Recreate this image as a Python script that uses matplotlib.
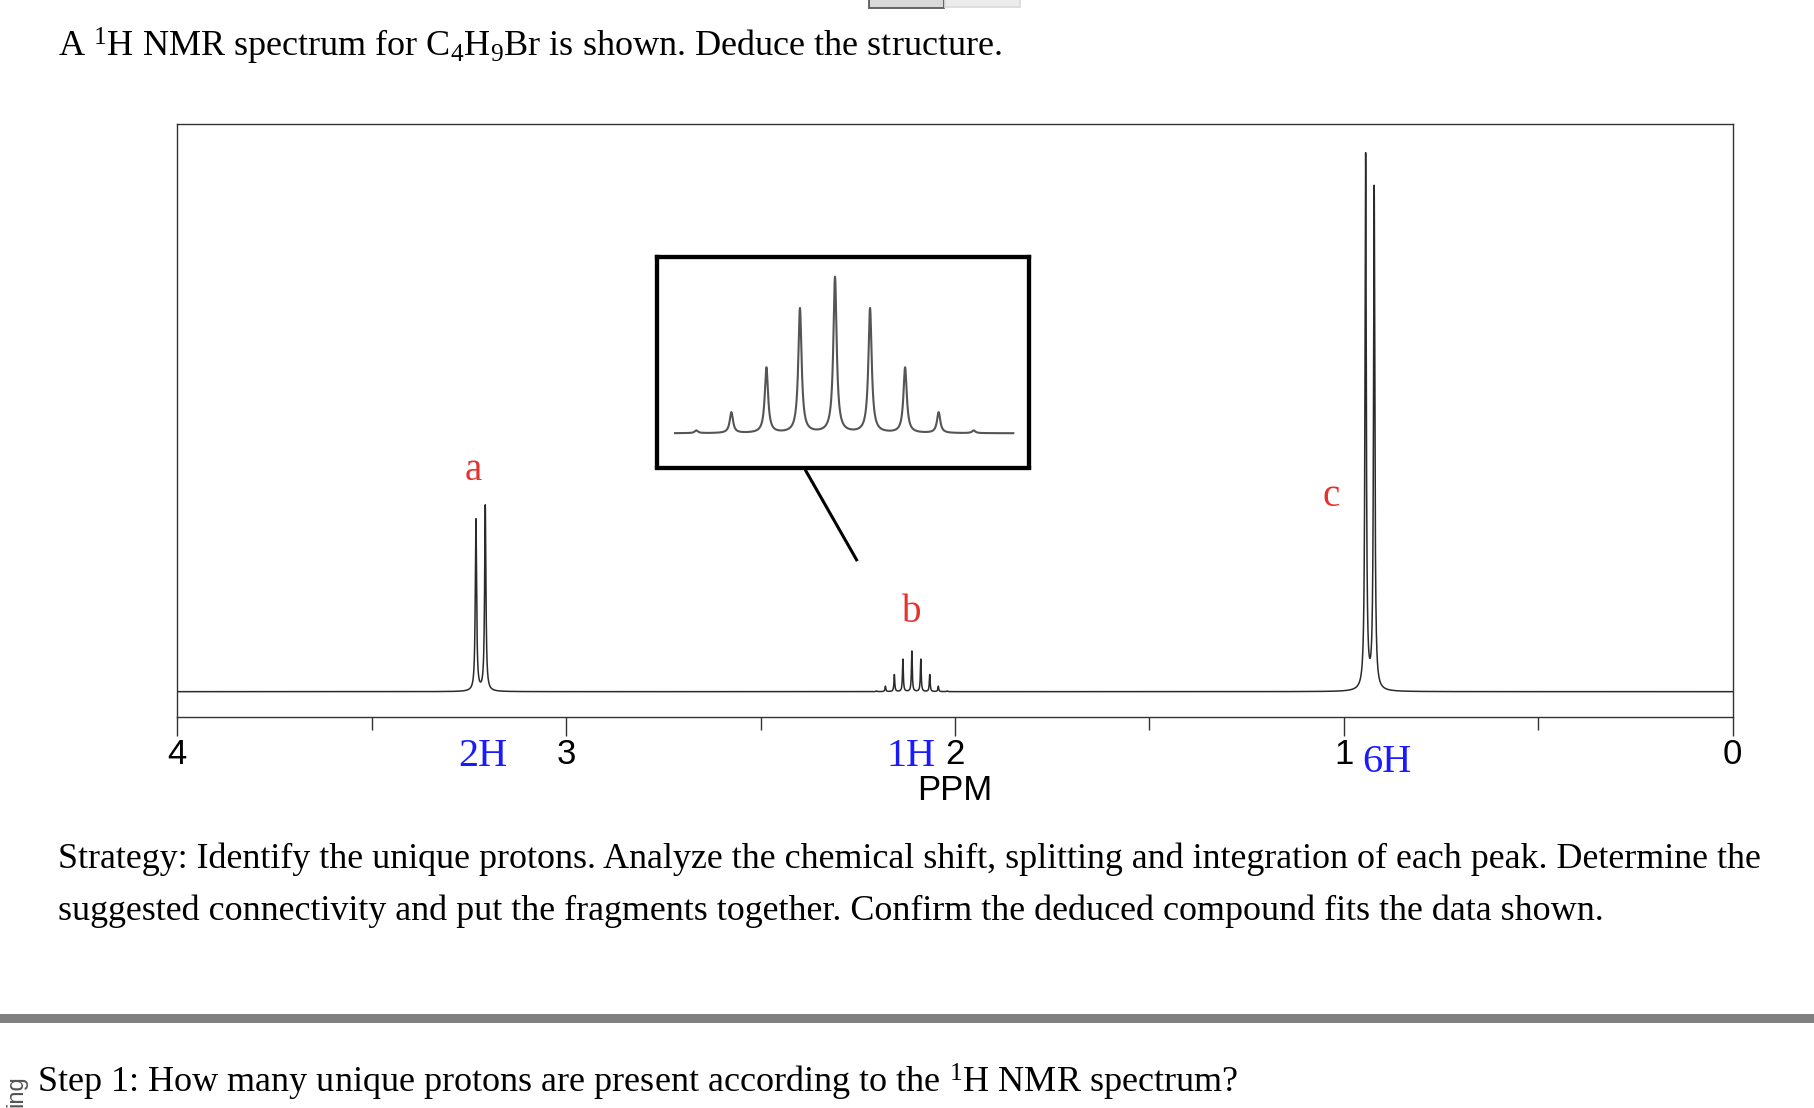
import matplotlib
matplotlib.use('Agg')
import matplotlib.pyplot as plt
from matplotlib.patches import Rectangle
import numpy as np

plt.rcParams['mathtext.fontset'] = 'custom'
plt.rcParams['mathtext.rm'] = 'Liberation Serif'
plt.rcParams['mathtext.it'] = 'Liberation Serif:italic'

W, H = 1814, 1108

# peaks: position (ppm) and height (c = 100)
a_ppm = [3.232, 3.208]
a_height = [31.8, 34.4]
b_ppm = [2.202, 2.179, 2.156, 2.134, 2.111, 2.088, 2.065, 2.043, 2.020]
b_height = [0.13, 1.0, 3.15, 6.0, 7.5, 6.0, 3.15, 1.0, 0.13]
c_ppm = [0.944, 0.922]
c_height = [99.1, 93.0]

major_ticks = [4, 3, 2, 1, 0]
minor_ticks = [3.5, 2.5, 1.5, 0.5]
peak_names = ['a', 'b', 'c']
integrals = ['2H', '1H', '6H']

serif = 'Liberation Serif'
sans = 'Liberation Sans'
red = '#e5322d'
blue = '#1a1aff'
line_col = '#2b2b2b'


def lorentz(x, centers, heights, w):
    y = np.zeros_like(x)
    for c, h in zip(centers, heights):
        y += h * w ** 2 / ((x - c) ** 2 + w ** 2)
    return y


fig = plt.figure(figsize=(W / 100, H / 100), dpi=100)

# page layer in pixel coordinates
page = fig.add_axes([0, 0, 1, 1])
page.set_xlim(0, W)
page.set_ylim(H, 0)
page.axis('off')

# bits of the web page around the chart
page.add_patch(Rectangle((868.5, -2), 75, 10.2, facecolor='#d9d9d9', edgecolor='#5a5a5a', lw=1.3))
page.add_patch(Rectangle((945, -2), 75, 9.3, facecolor='#ececec', edgecolor='#dcdcdc', lw=1.3))
page.add_patch(Rectangle((0, 1013.5), W, 9.2, facecolor='#808080', edgecolor='none'))

page.text(58, 57, r'A $^{1}$H NMR spectrum for C$_{4}$H$_{9}$Br is shown. Deduce the structure.',
          fontsize=26, family=serif, va='baseline')
page.text(58, 868, 'Strategy: Identify the unique protons. Analyze the chemical shift, splitting and '
          'integration of each peak. Determine the', fontsize=25.95, family=serif, va='baseline')
page.text(58, 920, 'suggested connectivity and put the fragments together. Confirm the deduced '
          'compound fits the data shown.', fontsize=25.95, family=serif, va='baseline')
page.text(37, 1093, r'Step 1: How many unique protons are present according to the $^{1}$H NMR spectrum?',
          fontsize=26, family=serif, va='baseline')
page.text(16, 1107, 'ing', rotation=90, ha='center', va='bottom', fontsize=17,
          color='#555555', family=sans)

# main spectrum
ax = fig.add_axes([177.3 / W, 1 - 716.5 / H, (1732.7 - 177.3) / W, (716.5 - 123.8) / H])
ax.set_facecolor('none')
x = np.linspace(4, 0, 40001)
y = (lorentz(x, a_ppm, a_height, 0.002) + lorentz(x, b_ppm, b_height, 0.0013)
     + lorentz(x, c_ppm, c_height, 0.002))
ax.plot(x, y, color=line_col, lw=1.1)
ax.set_xlim(4, 0)
ax.set_ylim(-4.6, 105.2)
ax.set_yticks([])
ax.set_xticks(major_ticks)
ax.set_xticks(minor_ticks, minor=True)
ax.set_xticklabels([str(t) for t in major_ticks], family=sans, fontsize=25)
ax.tick_params(axis='x', which='major', length=13.5, width=1, color='#333333', pad=2)
ax.tick_params(axis='x', which='minor', length=9, width=1, color='#333333')
for s in ax.spines.values():
    s.set_color('#333333')
    s.set_linewidth(1)

page.text(954.5, 790, 'PPM', ha='center', va='center', fontsize=25, family=sans)

# peak letters and integrals
for name, pos in zip(peak_names, [(473, 470), (911.6, 613), (1331.6, 496)]):
    page.text(pos[0], pos[1], name, color=red, fontsize=28, family=serif, ha='center', va='center')
for lab, pos in zip(integrals, [(482.4, 757), (910.5, 757), (1387, 762)]):
    page.text(pos[0], pos[1], lab, color=blue, fontsize=29, family=serif, ha='center', va='center')

# pointer from the inset to multiplet b
page.plot([805.2, 857.3], [469.7, 561.1], color='black', lw=2.2, solid_capstyle='butt')

# inset with the expanded multiplet
ins = fig.add_axes([657 / W, 1 - 467.5 / H, (1028.7 - 657) / W, (467.5 - 257) / H])
xi = np.linspace(2.216, 1.994, 4001)
yi = lorentz(xi, b_ppm, b_height, 0.0013)
top = yi.max()
ins.plot(xi, yi, color='#555555', lw=1.5)
ins.set_xlim(2.2278, 1.9839)
ins.set_ylim(-34.2 / 156.6 * top, (210.5 - 34.2) / 156.6 * top)
ins.set_xticks([])
ins.set_yticks([])
for s in ins.spines.values():
    s.set_color('black')
    s.set_linewidth(3.1)

fig.savefig('out.png', dpi=100)
